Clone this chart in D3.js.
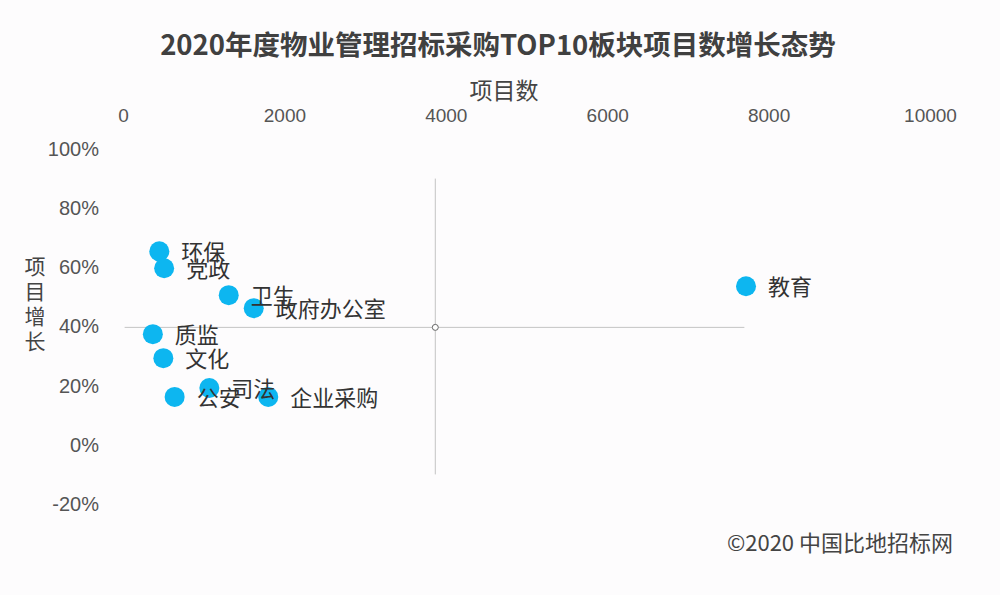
<!DOCTYPE html>
<html>
<head>
<meta charset="utf-8">
<script src="https://cdn.jsdelivr.net/npm/d3@7"></script>
<style>
  body { margin: 0; background: #fdfcfd; }
  svg { display: block; font-family: "Noto Sans CJK SC", "Noto Sans", sans-serif; }
</style>
</head>
<body>
<svg id="chart" width="1000" height="595"></svg>
<script>
// sectors, project counts and growth rate
var sectors = ["环保", "党政", "卫生", "政府办公室", "质监", "文化", "公安", "司法", "企业采购", "教育"];
var counts  = [450, 510, 1310, 1620, 370, 500, 640, 1070, 1800, 7720];
var growth  = [0.654, 0.597, 0.506, 0.462, 0.374, 0.293, 0.162, 0.192, 0.162, 0.536];

var xTicks = [0, 2000, 4000, 6000, 8000, 10000];
var yTicks = [-0.2, 0, 0.2, 0.4, 0.6, 0.8, 1.0];

// quadrant reference lines
var refCount = 3870;
var refGrowth = 0.397;

var svg = d3.select("#chart");

var x = d3.scaleLinear().domain([0, 10000]).range([123, 930]);
var y = d3.scaleLinear().domain([-0.2, 1.0]).range([504, 149]);

// title
svg.append("text")
  .attr("x", 498).attr("y", 55)
  .attr("text-anchor", "middle")
  .attr("font-size", 27.5)
  .attr("font-weight", "bold")
  .attr("fill", "#404040")
  .text("2020年度物业管理招标采购TOP10板块项目数增长态势");

// x axis on top, labels only
var xAxis = svg.append("g")
  .attr("transform", "translate(0,115)")
  .call(d3.axisTop(x).tickValues(xTicks).tickSize(0).tickPadding(0).tickFormat(d3.format("d")));
xAxis.select(".domain").remove();
xAxis.selectAll("text")
  .attr("font-size", 19)
  .attr("fill", "#555")
  .attr("dy", "0.35em")
  .attr("font-family", "inherit");

svg.append("text")
  .attr("x", 504).attr("y", 99)
  .attr("text-anchor", "middle")
  .attr("font-size", 23)
  .attr("fill", "#444")
  .text("项目数");

// y axis, labels only
var yAxis = svg.append("g")
  .attr("transform", "translate(99,0)")
  .call(d3.axisLeft(y).tickValues(yTicks).tickSize(0).tickPadding(0)
    .tickFormat(function(d) { return Math.round(d * 100) + "%"; }));
yAxis.select(".domain").remove();
yAxis.selectAll("text")
  .attr("font-size", 20)
  .attr("fill", "#555")
  .attr("font-family", "inherit");

var yLabel = svg.append("text")
  .attr("text-anchor", "middle")
  .attr("font-size", 21)
  .attr("fill", "#444");
["项", "目", "增", "长"].forEach(function(ch, i) {
  yLabel.append("tspan")
    .attr("x", 35)
    .attr("y", 274 + i * 25)
    .text(ch);
});

// reference lines
svg.append("line")
  .attr("x1", x(refCount)).attr("x2", x(refCount))
  .attr("y1", y(0.9)).attr("y2", y(-0.1))
  .attr("stroke", "#c4c4c4").attr("stroke-width", 1);
svg.append("line")
  .attr("x1", x(20)).attr("x2", x(7700))
  .attr("y1", y(refGrowth)).attr("y2", y(refGrowth))
  .attr("stroke", "#c4c4c4").attr("stroke-width", 1);
svg.append("circle")
  .attr("cx", x(refCount)).attr("cy", y(refGrowth))
  .attr("r", 3)
  .attr("fill", "#fff").attr("stroke", "#666").attr("stroke-width", 1);

// points
var pts = sectors.map(function(s, i) {
  return { name: s, count: counts[i], growth: growth[i] };
});

svg.append("g").selectAll("circle")
  .data(pts)
  .enter().append("circle")
  .attr("cx", function(d) { return x(d.count); })
  .attr("cy", function(d) { return y(d.growth); })
  .attr("r", 10)
  .attr("fill", "#0db6f0");

svg.append("g").selectAll("text")
  .data(pts)
  .enter().append("text")
  .attr("x", function(d) { return x(d.count) + 22; })
  .attr("y", function(d) { return y(d.growth) + 1; })
  .attr("dy", "0.35em")
  .attr("font-size", 22)
  .attr("fill", "#333")
  .text(function(d) { return d.name; });

// source note
svg.append("text")
  .attr("x", 953).attr("y", 551)
  .attr("text-anchor", "end")
  .attr("font-size", 22)
  .attr("fill", "#444")
  .text("©2020 中国比地招标网");
</script>
</body>
</html>
